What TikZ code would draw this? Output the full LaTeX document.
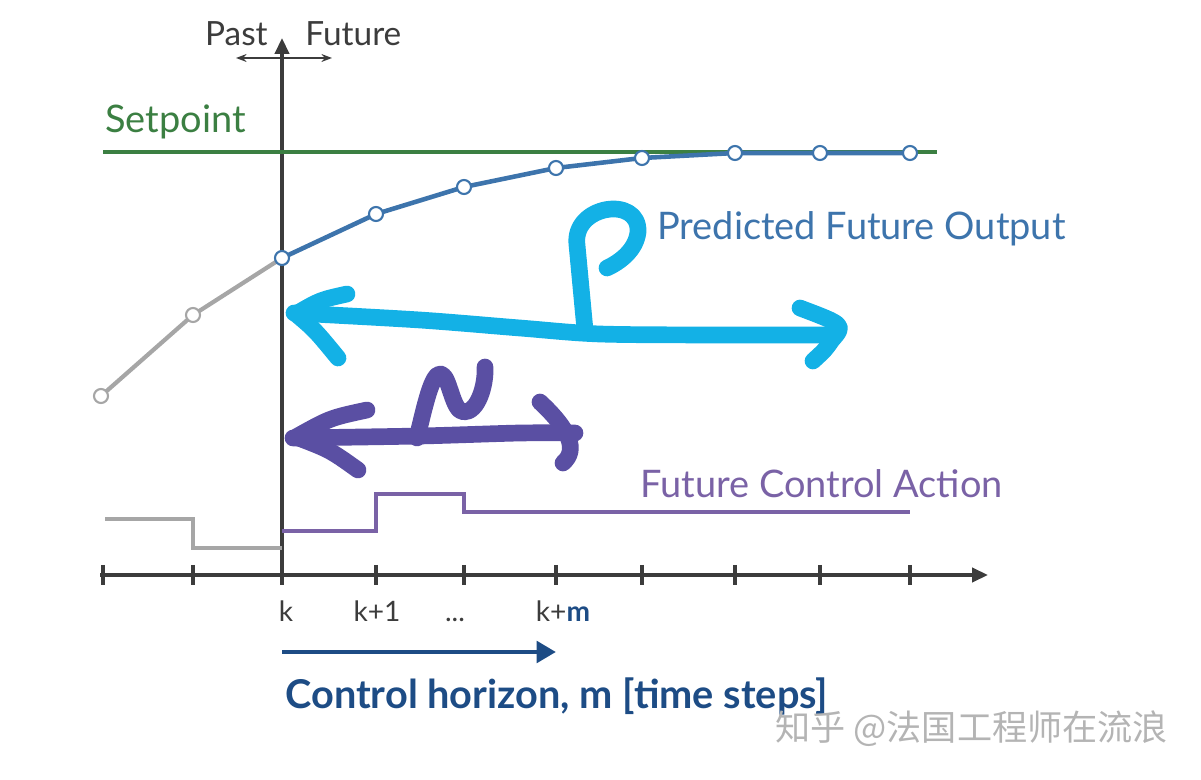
\documentclass[tikz,border=0pt]{standalone}
\usepackage{fontspec}
\setmainfont{Lato}
\newfontfamily\cjk{Noto Sans CJK SC}
\usetikzlibrary{arrows.meta}

\definecolor{axisgray}{HTML}{3C3C3C}
\definecolor{setgreen}{HTML}{3B7F42}
\definecolor{outblue}{HTML}{3D74AC}
\definecolor{pastgray}{HTML}{A6A6A6}
\definecolor{actpurple}{HTML}{7A62A6}
\definecolor{horblue}{HTML}{1D4C85}
\definecolor{inkcyan}{HTML}{13B1E6}
\definecolor{inkpurple}{HTML}{5A4FA3}
\definecolor{markgray}{HTML}{B4B4B4}

\begin{document}
\begin{tikzpicture}[x=0.02cm,y=-0.02cm,
    axis/.style={axisgray,line width=1.9pt},
    sample/.style={circle,draw=#1,fill=white,line width=1.2pt,
      inner sep=0pt,minimum size=0.28cm},
    ink/.style={line width=9.5pt,line cap=round,line join=round},
    big/.style={font=\fontsize{21.6}{26}\selectfont},
    small/.style={font=\fontsize{16}{19}\selectfont}]
  \useasboundingbox (0,0) rectangle (1201,780);

  % time axis and ticks
  \draw [axis,-{Triangle[length=9pt,width=8pt]}] (100,575) -- (988,575);
  \foreach \x in {103,193,282,376,464,556,642,735,820,910}
    \draw [axis] (\x,565) -- (\x,585);
  \draw [axis,-{Triangle[length=9pt,width=8pt]}] (282,578) -- (282,38);
  \draw [axis,line width=1.3pt,{Stealth[length=6pt]}-{Stealth[length=6pt]}]
    (236,58) -- (332,58);
  \node [axisgray,anchor=base east,inner sep=0pt,font=\fontsize{19}{23}\selectfont]
    (past) at (268,46) {Past};
  \node [axisgray,anchor=base west,inner sep=0pt,font=\fontsize{19}{23}\selectfont]
    (future) at (305,46) {Future};

  % setpoint
  \draw [setgreen,line width=2.4pt] (103,152) -- (937,152);
  \node [big,setgreen,anchor=base west,inner sep=0pt] (setp) at (105,133) {Setpoint};

  % past and predicted output
  \foreach \n/\x/\y in {0/101/396,1/193/315,2/282/258,3/376/214,4/464/187,
      5/556/168,6/642/158,7/735/153,8/820/153,9/910/153}
    \coordinate (o\n) at (\x,\y);
  \draw [pastgray,line width=2.4pt] (o0) -- (o1) -- (o2);
  \draw [outblue,line width=2.6pt] (o2) -- (o3) -- (o4) -- (o5) -- (o6)
    -- (o7) -- (o8) -- (o9);
  \foreach \n in {0,1} \node [sample=pastgray] (s\n) at (o\n) {};
  \foreach \n in {2,...,9} \node [sample=outblue] (s\n) at (o\n) {};
  \node [big,outblue,anchor=base west,inner sep=0pt] (pred) at (657,240)
    {Predicted Future Output};

  % control action
  \draw [pastgray,line width=2.4pt] (105,519) -- (193,519) -- (193,548) -- (282,548);
  \draw [actpurple,line width=2.4pt] (282,531) -- (376,531) -- (376,494)
    -- (464,494) -- (464,512) -- (910,512);
  \node [big,actpurple,anchor=base west,inner sep=0pt] (act) at (640,498)
    {Future Control Action};

  % step labels
  \node [small,axisgray,anchor=base,inner sep=0pt] (lk) at (286,622) {k};
  \node [small,axisgray,anchor=base,inner sep=0pt] (lk1) at (377,622) {k+1};
  \node [small,axisgray,anchor=base,inner sep=0pt] (ldots) at (455,622) {...};
  \node [small,axisgray,anchor=base,inner sep=0pt] (lkm) at (563,622)
    {k+\textcolor{horblue}{\textbf{m}}};

  % control horizon
  \coordinate (h0) at (282,652);
  \coordinate (h1) at (556,652);
  \draw [horblue,line width=2.8pt,-{Triangle[length=11pt,width=12pt]}] (h0) -- (h1);
  \node [horblue,anchor=base west,inner sep=0pt,
    font=\fontsize{22.6}{27}\selectfont\bfseries] (hor) at (285,708)
    {Control horizon, m [time steps]};

  % handwritten P
  \draw [ink,inkcyan] plot [smooth] coordinates
    {(294,313) (420,320) (520,328) (600,334) (720,335) (828,335)};
  \draw [ink,inkcyan] (347,294) .. controls (320,300) .. (296,314)
    .. controls (315,330) .. (338,358);
  \draw [ink,inkcyan] (800,308) .. controls (845,325) .. (832,340)
    .. controls (825,350) .. (813,361);
  \draw [ink,inkcyan] (585,330) -- (577,245) .. controls (572,205) and (640,195)
    .. (638,232) .. controls (636,250) and (620,262) .. (607,268);

  % handwritten N
  \draw [ink,inkpurple] plot [smooth] coordinates
    {(293,438) (420,436) (520,433) (575,433)};
  \draw [ink,inkpurple] (367,410) .. controls (330,418) .. (296,437)
    .. controls (330,450) .. (358,470);
  \draw [ink,inkpurple] (540,402) .. controls (570,430) and (578,450) .. (563,463);
  \draw [ink,inkpurple] (417,438) .. controls (425,405) and (432,372) .. (441,374)
    .. controls (450,376) and (452,412) .. (464,412)
    .. controls (478,412) and (486,385) .. (485,367);

  % watermark
  \node [markgray,anchor=west,inner sep=0pt,font=\cjk\fontsize{20}{24}\selectfont]
    (mark) at (775,729) {知乎 @法国工程师在流浪};
\end{tikzpicture}
\end{document}
